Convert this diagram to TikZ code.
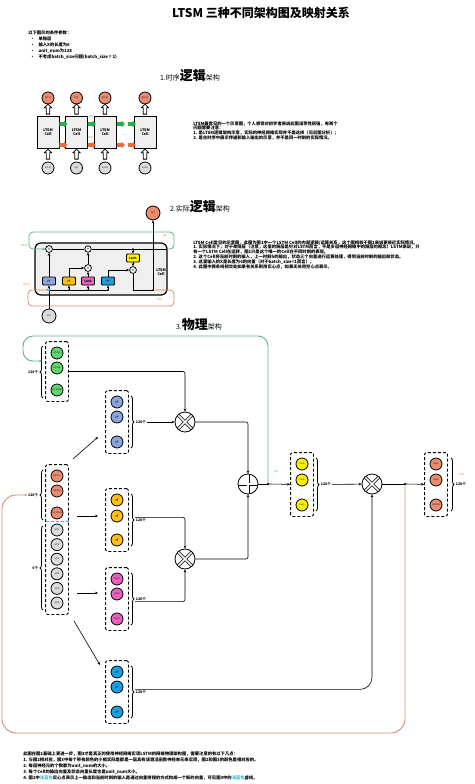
\documentclass[tikz,border=0pt]{standalone}
\usepackage{fontspec}
\setmainfont{Noto Sans CJK SC}
\usetikzlibrary{arrows.meta,shapes.arrows,decorations.pathreplacing,fit}

\definecolor{hcol}{RGB}{235,140,112}
\definecolor{xcol}{RGB}{220,220,220}
\definecolor{ccol}{RGB}{96,214,110}
\definecolor{fcol}{RGB}{140,165,220}
\definecolor{icol}{RGB}{250,190,20}
\definecolor{gcol}{RGB}{235,95,190}
\definecolor{ocol}{RGB}{25,160,225}
\definecolor{tcol}{RGB}{255,240,0}
\definecolor{cloop}{RGB}{95,180,135}
\definecolor{hloop}{RGB}{215,140,110}
\definecolor{joint}{RGB}{60,185,215}
\definecolor{cgreen}{RGB}{40,175,70}
\definecolor{horange}{RGB}{230,110,60}

\newcommand{\unitfont}{\fontsize{2.3}{2.5}\selectfont}
\newcommand{\notefont}{\fontsize{4.3}{4.8}\selectfont\bfseries}

\tikzset{
  unit/.style={circle,draw,thick,minimum size=12pt,inner sep=0pt,font=\unitfont},
  grp/.style={draw,densely dashed,thick,rounded corners=1.5pt,inner sep=5pt},
  brc/.style={decorate,decoration={brace,amplitude=3pt},thick},
  cnt/.style={font=\fontsize{3.5}{4}\selectfont\bfseries,inner sep=0.5pt},
  vd/.style={font=\fontsize{4}{4}\selectfont,inner sep=0pt},
  lbl/.style={font=\fontsize{2.8}{3}\selectfont,inner sep=0.5pt},
  lcell/.style={draw,thick,fill=xcol!45,minimum width=22pt,minimum height=32pt,align=center,font=\fontsize{3.6}{4.4}\selectfont\bfseries},
  hol/.style={single arrow,draw,thick,fill=white,shape border rotate=90,minimum height=10pt,inner sep=1.4pt,single arrow head extend=1.8pt},
  flw/.style={single arrow,minimum height=8pt,inner sep=1.5pt,single arrow head extend=1.6pt},
  gate/.style={draw,thick,rounded corners=1pt,minimum width=13pt,minimum height=8pt,inner sep=0pt,font=\fontsize{3}{3}\selectfont\bfseries},
  sop/.style={circle,draw,thick,fill=white,minimum size=6.5pt,inner sep=0pt,font=\fontsize{4.5}{4.5}\selectfont},
  note/.style={anchor=north west,align=left,inner sep=0pt,font=\notefont},
  mult/.style={circle,draw,thick,fill=white,minimum size=20pt,inner sep=0pt,
    path picture={
      \draw[line width=3pt] (path picture bounding box.north west) -- (path picture bounding box.south east)
        (path picture bounding box.north east) -- (path picture bounding box.south west);
      \draw[white,line width=1.5pt] (path picture bounding box.north west) -- (path picture bounding box.south east)
        (path picture bounding box.north east) -- (path picture bounding box.south west);}},
  plus/.style={circle,draw,thick,fill=white,minimum size=20pt,inner sep=0pt,
    path picture={
      \draw[line width=3pt] (path picture bounding box.north) -- (path picture bounding box.south)
        (path picture bounding box.east) -- (path picture bounding box.west);
      \draw[white,line width=1.5pt] (path picture bounding box.north) -- (path picture bounding box.south)
        (path picture bounding box.east) -- (path picture bounding box.west);}}
}

\begin{document}
\begin{tikzpicture}[x=1pt,y=-1pt,line width=0.6pt,>={Stealth[length=3pt,width=2.6pt]}]
    \useasboundingbox (0,0) rectangle (474,784);

    \node (title) at (261,13) {\fontsize{12}{12}\selectfont\bfseries LTSM 三种不同架构图及映射关系};

    \node[note,font=\fontsize{4.3}{6}\selectfont\bfseries] (cond) at (28,30) {以下图示的条件参数：\\
        \hspace*{2pt}•\hspace*{4pt}单隐层\\
        \hspace*{2pt}•\hspace*{4pt}输入X的长度为6\\
        \hspace*{2pt}•\hspace*{4pt}unit\_num为128\\
        \hspace*{2pt}•\hspace*{4pt}不考虑batch\_size问题(batch\_size = 1)};

    % 1. sequence view
    \node (head1) at (190,76) {\fontsize{7}{7}\selectfont 1.时序\fontsize{13}{13}\selectfont\bfseries 逻辑\fontsize{7}{7}\selectfont\mdseries 架构};

    \node[lcell] (cell1) at (48,132) {LTSM\\Cell};
    \node[lcell] (cell2) at (76.5,132) {LTSM\\Cell};
    \node[lcell] (cell3) at (105,132) {LTSM\\Cell};
    \node[lcell] (cell4) at (145,132) {LTSM\\Cell};

    \node[unit,fill=hcol] (hs1) at (48,98) {h(t-1)};
    \node[unit,fill=hcol] (hs2) at (76.5,98) {h(t)};
    \node[unit,fill=hcol] (hs3) at (105,98) {h(t+1)};
    \node[unit,fill=hcol] (hs4) at (145,98) {h(t+n)};
    \node[unit,fill=xcol] (xs1) at (48,168) {x(t-1)};
    \node[unit,fill=xcol] (xs2) at (76.5,168) {x(t)};
    \node[unit,fill=xcol] (xs3) at (105,168) {x(t+1)};
    \node[unit,fill=xcol] (xs4) at (145,168) {x(t+n)};

    \node[hol] (up1) at (48,110) {};
    \node[hol] (up2) at (76.5,110) {};
    \node[hol] (up3) at (105,110) {};
    \node[hol] (up4) at (145,110) {};
    \node[hol] (in1) at (48,155) {};
    \node[hol] (in2) at (76.5,155) {};
    \node[hol] (in3) at (105,155) {};
    \node[hol] (in4) at (145,155) {};

    \node[flw,fill=cgreen] (cf1) at (62.5,124) {};
    \node[flw,fill=cgreen] (cf2) at (91,124) {};
    \node[flw,fill=cgreen] (cf3) at (120,124) {};
    \node[flw,fill=cgreen] (cf4) at (131,124) {};
    \node[flw,fill=horange] (hf1) at (62.5,145) {};
    \node[flw,fill=horange] (hf2) at (91,145) {};
    \node[flw,fill=horange] (hf3) at (120,145) {};
    \node[flw,fill=horange] (hf4) at (131,145) {};

    \node[font=\fontsize{4}{4}\selectfont] (gap1) at (125,135) {...};
    \node[lbl,text=cgreen] (ctag1) at (91,117) {c(t)};
    \node[lbl,text=horange] (htag1) at (91,138) {h(t)};

    \node[note] (note1) at (193,121) {LTSM最常见的一个示意图，个人感觉对初学者来说此图误导性很强，有两个\\
        问题需要注意：\\
        1. 是LTSM逻辑架构示意，实际的神经网络实现并不是这样（见后图分析）；\\
        2. 是在时序中展示传递和输入输出的示意，并不是同一时刻的实际情况。};

    % 2. cell view
    \node (head2) at (200,207) {\fontsize{7}{7}\selectfont 2.实际\fontsize{13}{13}\selectfont\bfseries 逻辑\fontsize{7}{7}\selectfont\mdseries 架构};

    \node[draw,line width=1.2pt,rounded corners=6pt,fill=xcol!45,minimum width=132pt,minimum height=52pt] (cellbox) at (101,269) {};
    \node[font=\fontsize{3.6}{4.4}\selectfont\bfseries,align=center] (celltxt) at (161,272) {LTSM\\Cell};

    \node[unit,fill=hcol,minimum size=14pt] (hOut) at (153,213) {h(t)};
    \node[unit,fill=xcol,minimum size=14pt] (xin) at (49,316) {x(t)};

    \node[sop] (fm) at (49,249) {$\times$};
    \node[sop] (ad) at (88,249) {+};
    \node[sop] (im) at (88,268) {$\times$};
    \node[sop] (om) at (133,270) {$\times$};
    \node[gate,fill=tcol] (ot) at (133,258) {tanh};
    \node[gate,fill=fcol] (fg) at (49,281) {$\sigma$};
    \node[gate,fill=icol] (ig) at (69,281) {$\sigma$};
    \node[gate,fill=gcol] (cg) at (88,281) {tanh};
    \node[gate,fill=ocol] (og) at (108,281) {$\sigma$};

    \coordinate (bus0) at (49,290);
    \coordinate (bus1) at (69,290);
    \coordinate (bus2) at (88,290);
    \coordinate (bus3) at (108,290);
    \coordinate (cTap) at (133,249);
    \coordinate (hTap) at (153,290);
    \coordinate (cEnd) at (167,249);

    \draw (xin) -- (bus0);
    \draw (bus0) -- (bus3);
    \draw[->] (bus0) -- (fg);
    \draw[->] (bus1) -- (ig);
    \draw[->] (bus2) -- (cg);
    \draw[->] (bus3) -- (og);
    \draw (fm) -- (ad) -- (cEnd);
    \draw[->] (fg) -- (fm);
    \draw[->] (ig) |- (im);
    \draw[->] (cg) -- (im);
    \draw[->] (im) -- (ad);
    \draw[->] (og) |- (om);
    \draw[->] (cTap) -- (ot);
    \draw[->] (ot) -- (om);
    \draw (om) |- (hTap);
    \draw[->] (hTap) -- (hOut);

    \draw[cloop,thick,->,rounded corners=4pt] (cEnd) -- (174,249) -- (174,232) -- (29,232) -- (29,249) -- (fm);
    \draw[hloop,thick,->,rounded corners=4pt] (hTap) -- (174,290) -- (174,306) -- (28,306) -- (28,290) -- (bus0);

    \fill (bus1) circle (1pt);
    \fill (bus2) circle (1pt);
    \fill (bus3) circle (1pt);
    \fill (cTap) circle (1pt);
    \fill (hTap) circle (1pt);
    \fill[joint] (bus0) circle (1.4pt);

    \node[lbl,text=cgreen] (ctag2) at (165,236) {c(t)};
    \node[lbl,text=cgreen,anchor=east] (cptag2) at (28,246) {c(t-1)};
    \node[lbl,text=horange] (hptag2) at (27,285) {h(t-1)};
    \node[lbl,text=horange] (htag2) at (160,300) {h(t)};

    \node[note] (note2) at (193,240) {LTSM Cell常见的示意图，此图为图1中一个LSTM Cell的内部逻辑/运算关系，这个图相较于图1来说更接近实际情况。\\
        1. 实际情况下，对于单隐层（注意，这里的隐层是针对LSTM而言，不是多层神经网络中的隐层的概念）LSTM来说，只\\
        有一个LSTM Cell在运转，图1只是这个唯一的Cell在不同时刻的表现。\\
        2. 这个Cell将当前时刻的输入，上一时刻h的输出，状态三个向量进行运算处理，得到当前时刻的输出和状态。\\
        3. 这里输入的X是长度为6的向量（对于batch\_size=1而言）。\\
        4. 此图中两条线相交处如果有关系则用实心点，如果无关用空心点表示。};

    % 3. physical view
    \node (head3) at (199,325) {\fontsize{7}{7}\selectfont 3.\fontsize{13}{13}\selectfont\bfseries 物理\fontsize{7}{7}\selectfont\mdseries 架构};

    % c(t-1)
    \node[unit,fill=ccol] (c1) at (57,353) {c(t-1)1};
    \node[unit,fill=ccol] (c2) at (57,368) {c(t-1)2};
    \node[vd] (cdt) at (57,379) {$\vdots$};
    \node[unit,fill=ccol] (c3) at (57,390) {c(t-1)128};
    \node[grp,fit=(c1)(c3)] (gC) {};
    \draw[brc] (43,398) -- node[midway,left=4pt,cnt] (cL) {128个} (43,346);

    % h(t-1) and x(t)
    \node[unit,fill=hcol] (h1) at (57,476) {h(t-1)1};
    \node[unit,fill=hcol] (h2) at (57,491) {h(t-1)2};
    \node[vd] (hdt) at (57,502) {$\vdots$};
    \node[unit,fill=hcol] (h3) at (57,513) {h(t-1)128};
    \node[unit,fill=xcol] (x1) at (57,530) {x(t)1};
    \node[unit,fill=xcol] (x2) at (57,544.6) {x(t)2};
    \node[unit,fill=xcol] (x3) at (57,559.2) {x(t)3};
    \node[unit,fill=xcol] (x4) at (57,573.8) {x(t)4};
    \node[unit,fill=xcol] (x5) at (57,588.4) {x(t)5};
    \node[unit,fill=xcol] (x6) at (57,603) {x(t)6};
    \node[grp,fit=(h1)(x6)] (gIn) {};
    \coordinate (sepL) at (46,521.5);
    \coordinate (sepR) at (69,521.5);
    \draw[joint,densely dashed,thick] (sepL) -- (sepR);
    \draw[brc] (43,520) -- node[midway,left=4pt,cnt] (hL) {128个} (43,470);
    \draw[brc] (43,610) -- node[midway,left=4pt,cnt] (xL) {6个} (43,526);

    % forget gate
    \node[unit,fill=fcol] (f1) at (117,402) {$\sigma$};
    \node[unit,fill=fcol] (f2) at (117,417) {$\sigma$};
    \node[vd] (fdt) at (117,429) {$\vdots$};
    \node[unit,fill=fcol] (f3) at (117,442) {$\sigma$};
    \node[grp,fit=(f1)(f3)] (gF) {};
    \draw[brc] (131,396) -- node[midway,right=4pt,cnt] (fL) {128个} (131,448);

    % input gate
    \node[unit,fill=icol] (i1) at (117,500) {$\sigma$};
    \node[unit,fill=icol] (i2) at (117,516) {$\sigma$};
    \node[vd] (idt) at (117,528) {$\vdots$};
    \node[unit,fill=icol] (i3) at (117,540) {$\sigma$};
    \node[grp,fit=(i1)(i3)] (gI) {};
    \draw[brc] (131,494) -- node[midway,right=4pt,cnt] (iL) {128个} (131,546);

    % candidate
    \node[unit,fill=gcol] (g1) at (117,579) {tanh};
    \node[unit,fill=gcol] (g2) at (117,594) {tanh};
    \node[vd] (gdt) at (117,606) {$\vdots$};
    \node[unit,fill=gcol] (g3) at (117,619) {tanh};
    \node[grp,fit=(g1)(g3)] (gG) {};
    \draw[brc] (131,573) -- node[midway,right=4pt,cnt] (gL) {128个} (131,625);

    % output gate
    \node[unit,fill=ocol] (o1) at (117,672) {$\sigma$};
    \node[unit,fill=ocol] (o2) at (117,687) {$\sigma$};
    \node[vd] (odt) at (117,700) {$\vdots$};
    \node[unit,fill=ocol] (o3) at (117,712) {$\sigma$};
    \node[grp,fit=(o1)(o3)] (gO) {};
    \draw[brc] (131,666) -- node[midway,right=4pt,cnt] (oL) {128个} (131,718);

    % tanh of c(t)
    \node[unit,fill=tcol] (t1) at (302,464) {tanh};
    \node[unit,fill=tcol] (t2) at (302,480) {tanh};
    \node[vd] (tdt) at (302,492) {$\vdots$};
    \node[unit,fill=tcol] (t3) at (302,505) {tanh};
    \node[grp,fit=(t1)(t3)] (gT) {};
    \draw[brc] (316,458) -- node[midway,right=4pt,cnt] (tL) {128个} (316,511);

    % h(t)
    \node[unit,fill=hcol] (y1) at (436,464) {h(t)1};
    \node[unit,fill=hcol] (y2) at (436,480) {h(t)2};
    \node[vd] (ydt) at (436,492) {$\vdots$};
    \node[unit,fill=hcol] (y3) at (436,505) {h(t)128};
    \node[grp,fit=(y1)(y3)] (gH) {};
    \draw[brc] (451,458) -- node[midway,right=4pt,cnt] (yL) {128个} (451,511);

    \node[mult] (m1) at (185,422) {};
    \node[mult] (m3) at (185,559) {};
    \node[plus] (a1) at (248,484) {};
    \node[mult] (m2) at (372,484) {};
    \coordinate (jc) at (268,484);
    \coordinate (jh) at (405,484);
    \coordinate (cIn) at (42,361);

    \coordinate (sF) at (73,459);
    \coordinate (eF) at (98,437);
    \coordinate (sI) at (77,516);
    \coordinate (eI) at (98,516);
    \coordinate (sG) at (77,593);
    \coordinate (eG) at (98,593);
    \coordinate (sO) at (74,621);
    \coordinate (eO) at (100,665);
    \draw[->] (sF) -- (eF);
    \draw[->] (sI) -- (eI);
    \draw[->] (sG) -- (eG);
    \draw[->] (sO) -- (eO);

    \draw[->,rounded corners=2pt] (gC.east) -| (m1);
    \draw[->] (fL) -- (m1);
    \draw[->,rounded corners=2pt] (m1) -| (a1);
    \draw[->,rounded corners=2pt] (iL.north west) -| (m3);
    \draw[->,rounded corners=2pt] (gL.south west) -| (m3);
    \draw[->,rounded corners=2pt] (m3) -| (a1);
    \draw (a1) -- (jc);
    \draw[->] (jc) -- (gT);
    \draw[->] (tL) -- (m2);
    \draw (m2) -- (jh);
    \draw[->] (jh) -- (gH);
    \draw[->,rounded corners=12pt] (oL.north west) -| (m2);

    \draw[cloop,line width=0.9pt,->,rounded corners=10pt] (jc) -- (268,336) -- (23,336) -- (23,361) -- (cIn);
    \draw[hloop,line width=0.9pt,->,rounded corners=14pt] (jh) -- (405,733) -- (2,733) -- (2,495) -- (hL);
    \fill (jc) circle (1.2pt);
    \fill (jh) circle (1.2pt);

    \node[lbl,text=cgreen] (ctag3) at (276,472) {c(t)};
    \node[lbl,text=horange] (htag3) at (462,475) {h(t)};

    \node[note,font=\fontsize{4.3}{6.2}\selectfont\bfseries] (note3) at (23,751) {此图在图2基础上更进一步，图3才是真正的使用神经网络实现LSTM的网络物理架构图，需要注意的有以下几点：\\
        1. 与图2相对应，图3中每个带有颜色的小框实际是都是一层具有该激活函数神经单元来实现，图2和图3的颜色是相对应的。\\
        2. 每层神经元的个数都为unit\_num的大小。\\
        3. 每个Cell的输出向量及状态向量长度也是unit\_num大小。\\
        4. 图2中\textcolor{joint}{浅蓝色}实心点表示上一输出和当前时刻的输入是通过向量拼接的方式构成一个新的向量，可见图3中的\textcolor{joint}{浅蓝色}虚线。};
\end{tikzpicture}
\end{document}
